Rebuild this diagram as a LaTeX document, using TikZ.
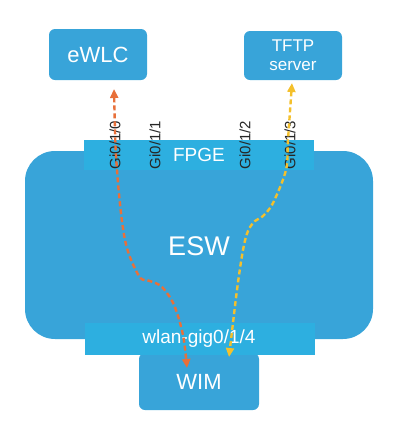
\documentclass[tikz,border=0pt]{standalone}
\usepackage{fontspec}
\setmainfont{Liberation Sans}
\usetikzlibrary{arrows.meta}
\definecolor{boxblue}{HTML}{38A4D9}
\definecolor{stripblue}{HTML}{2DAFE0}
\definecolor{orangeline}{HTML}{E8703A}
\definecolor{yellowline}{HTML}{F4C02C}
\definecolor{labelgray}{HTML}{262626}
\tikzset{
  devbox/.style={fill=boxblue, draw=none, rounded corners=6pt, text=white, inner sep=0pt, align=center},
  stripbox/.style={fill=stripblue, draw=none, inner sep=0pt, text=white},
  portlabel/.style={rotate=90, text=labelgray, font=\fontsize{15}{15}\selectfont, inner sep=0pt},
  flow/.style={line width=2.4pt, dash pattern=on 5pt off 3pt, arrows={Triangle[length=9pt,width=8pt]-Triangle[length=9pt,width=8pt]}}
}
\begin{document}
\begin{tikzpicture}[x=1pt,y=-1pt]
\useasboundingbox (0,0) rectangle (414,424);
% ESW main box
\node[fill=boxblue, draw=none, rounded corners=30pt, minimum width=348pt, minimum height=188pt, inner sep=0pt] (esw) at (199,245) {};
\node[text=white, font=\fontsize{27}{27}\selectfont] (eswlabel) at (199,246) {ESW};
% FPGE strip
\node[stripbox, minimum width=230pt, minimum height=30pt, font=\fontsize{19}{19}\selectfont] (fpge) at (199,155) {FPGE};
% WIM box
\node[devbox, minimum width=120pt, minimum height=57pt, font=\fontsize{22}{22}\selectfont] (wim) at (199,381.5) {WIM};
% wlan strip
\node[stripbox, minimum width=230pt, minimum height=32pt] (wlan) at (200,339) {};
\node[text=white, font=\fontsize{19}{19}\selectfont, inner sep=0pt] (wlanlabel) at (199,339) {wlan-gig0/1/4};
% top devices
\node[devbox, minimum width=98pt, minimum height=51pt, font=\fontsize{22}{22}\selectfont] (ewlc) at (98,54.5) {eWLC};
\node[devbox, minimum width=98pt, minimum height=49pt, font=\fontsize{17}{19}\selectfont] (tftp) at (293,55.5) {TFTP\\server};
% port labels
\node[portlabel] (g0) at (115,145) {Gi0/1/0};
\node[portlabel] (g1) at (155,145) {Gi0/1/1};
\node[portlabel] (g2) at (245,145) {Gi0/1/2};
\node[portlabel] (g3) at (290,145) {Gi0/1/3};
% flow endpoints
\coordinate (o1) at (114,89);
\coordinate (o2) at (187,368);
\coordinate (y1) at (292,83);
\coordinate (y2) at (229,357);
% flows
\draw[flow, orangeline] plot[smooth, tension=0.55] coordinates {(o1) (117,170) (125,240) (139,276) (150,281) (162,287) (174,305) (183,335) (o2)};
\draw[flow, yellowline] plot[smooth, tension=0.55] coordinates {(y1) (288,140) (286,170) (273,203) (263,216) (255,221) (248,231) (243,250) (237,290) (y2)};
\end{tikzpicture}
\end{document}
